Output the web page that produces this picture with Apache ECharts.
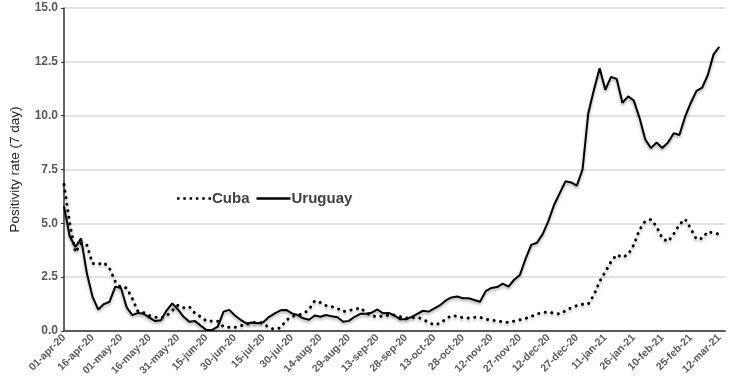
<!DOCTYPE html>
<html>
<head>
<meta charset="utf-8">
<script src="https://cdn.jsdelivr.net/npm/echarts@6/dist/echarts.min.js"></script>
<style>
  html, body { margin: 0; padding: 0; background: #fff; }
  #chart { width: 733px; height: 390px; }
</style>
</head>
<body>
<div id="chart"></div>
<script>
// labels every 15 days, starting 01-apr-20
const tickLabels = [
  '01-apr-20', '16-apr-20', '01-may-20', '16-may-20', '31-may-20', '15-jun-20',
  '30-jun-20', '15-jul-20', '30-jul-20', '14-aug-20', '29-aug-20', '13-sep-20',
  '28-sep-20', '13-oct-20', '28-oct-20', '12-nov-20', '27-nov-20', '12-dec-20',
  '27-dec-20', '11-jan-21', '26-jan-21', '10-feb-21', '25-feb-21', '12-mar-21'
];

// one value every 3 days from 01-apr-20
const dayStep = 3;

const uruguay = [
  5.8, 4.4, 3.9, 4.3, 2.7, 1.6, 1.0, 1.25, 1.36, 2.06,
  2.0, 1.1, 0.74, 0.84, 0.8, 0.62, 0.46, 0.5, 0.95, 1.28,
  1.0, 0.66, 0.43, 0.46, 0.25, 0.05, 0.05, 0.2, 0.9, 0.98,
  0.72, 0.52, 0.35, 0.39, 0.36, 0.42, 0.66, 0.82, 0.96, 0.98,
  0.82, 0.74, 0.59, 0.52, 0.72, 0.66, 0.74, 0.68, 0.64, 0.43,
  0.47, 0.66, 0.8, 0.8, 0.85, 1.0, 0.82, 0.84, 0.72, 0.54,
  0.54, 0.66, 0.8, 0.94, 0.9, 1.05, 1.2, 1.42, 1.56, 1.6,
  1.52, 1.52, 1.44, 1.36, 1.85, 2.0, 2.04, 2.2, 2.06, 2.38,
  2.6, 3.35, 4.0, 4.1, 4.5, 5.1, 5.85, 6.4, 6.95, 6.9,
  6.75, 7.5, 10.1, 11.2, 12.2, 11.2, 11.8, 11.7, 10.6, 10.9,
  10.7, 9.9, 8.9, 8.5, 8.75, 8.5, 8.75, 9.18, 9.1, 9.95,
  10.6, 11.15, 11.3, 11.9, 12.85, 13.2
];

const cuba = [
  6.8, 5.0, 3.65, 4.07, 4.0, 3.14, 3.1, 3.18, 2.9, 2.3,
  2.03, 2.0, 1.5, 0.9, 0.85, 0.72, 0.64, 0.6, 0.7, 0.95,
  1.2, 1.08, 1.13, 0.82, 0.66, 0.46, 0.46, 0.45, 0.2, 0.17,
  0.17, 0.25, 0.3, 0.4, 0.4, 0.35, 0.15, 0.08, 0.15, 0.5,
  0.68, 0.74, 0.8, 1.0, 1.4, 1.32, 1.18, 1.13, 1.05, 0.9,
  0.96, 1.0, 1.08, 0.85, 0.7, 0.66, 0.7, 0.74, 0.74, 0.66,
  0.6, 0.62, 0.64, 0.54, 0.4, 0.28, 0.36, 0.55, 0.72, 0.68,
  0.62, 0.6, 0.64, 0.64, 0.55, 0.5, 0.48, 0.42, 0.4, 0.46,
  0.52, 0.58, 0.68, 0.79, 0.86, 0.88, 0.82, 0.79, 0.94, 1.08,
  1.18, 1.24, 1.25, 1.67, 2.3, 2.75, 3.22, 3.55, 3.42, 3.55,
  4.0, 4.7, 5.1, 5.18, 4.85, 4.3, 4.15, 4.5, 4.95, 5.2,
  4.75, 4.26, 4.3, 4.62, 4.54, 4.5
];

const toPoints = (arr) => arr.map((v, i) => [i * dayStep, v]);

const chart = echarts.init(document.getElementById('chart'));

const lineShadow = {
  shadowColor: 'rgba(0,0,0,0.35)',
  shadowBlur: 3,
  shadowOffsetY: 2
};

// legend icons: a row of dots and a plain bar
const dotIcon = 'path://M0,0h2.5v2.5h-2.5zM6.3,0h2.5v2.5h-2.5zM12.6,0h2.5v2.5h-2.5z' +
  'M18.9,0h2.5v2.5h-2.5zM25.2,0h2.5v2.5h-2.5zM31.5,0h2.5v2.5h-2.5z';
const barIcon = 'path://M0,0h34v2.5h-34z';

const option = {
  animation: false,
  textStyle: { fontFamily: 'Liberation Sans' },
  grid: {
    left: 52,
    right: 8,
    top: 8,
    bottom: 59,
    containLabel: false
  },
  legend: {
    left: 172,
    top: 186,
    itemGap: 7,
    itemWidth: 34,
    itemHeight: 2.5,
    textStyle: {
      fontSize: 15,
      fontWeight: 'bold',
      color: '#404040',
      padding: [0, 0, 0, -4]
    },
    data: [
      { name: 'Cuba', icon: dotIcon },
      { name: 'Uruguay', icon: barIcon }
    ]
  },
  xAxis: {
    type: 'value',
    min: 0,
    max: 348,
    interval: 15,
    axisLine: { lineStyle: { color: '#595959', width: 2 } },
    axisTick: { show: false },
    splitLine: { show: false },
    axisLabel: {
      rotate: 45,
      fontSize: 10.5,
      color: '#595959',
      fontWeight: 'bold',
      margin: 5,
      showMaxLabel: false,
      formatter: (v) => tickLabels[v / 15] || ''
    }
  },
  yAxis: {
    type: 'value',
    min: 0,
    max: 15,
    interval: 2.5,
    name: 'Positivity rate (7 day)',
    nameLocation: 'middle',
    nameGap: 42,
    nameTextStyle: { fontSize: 13.5, color: '#222' },
    axisLine: { show: true, lineStyle: { color: '#333', width: 1.5 } },
    axisTick: { show: true, length: 3, lineStyle: { color: '#333' } },
    splitLine: { lineStyle: { color: '#d9d9d9', width: 1.5 } },
    axisLabel: {
      fontSize: 12,
      color: '#595959',
      fontWeight: 'bold',
      margin: 6,
      formatter: (v) => v.toFixed(1)
    }
  },
  series: [
    {
      name: 'Cuba',
      type: 'line',
      data: toPoints(cuba),
      showSymbol: false,
      symbol: 'none',
      color: '#000',
      lineStyle: {
        color: '#000',
        width: 3,
        type: [0.1, 6.5],
        cap: 'round',
        ...lineShadow
      }
    },
    {
      name: 'Uruguay',
      type: 'line',
      data: toPoints(uruguay),
      showSymbol: false,
      symbol: 'none',
      color: '#000',
      lineStyle: {
        color: '#000',
        width: 2,
        ...lineShadow
      }
    }
  ]
};

chart.setOption(option);
</script>
</body>
</html>
